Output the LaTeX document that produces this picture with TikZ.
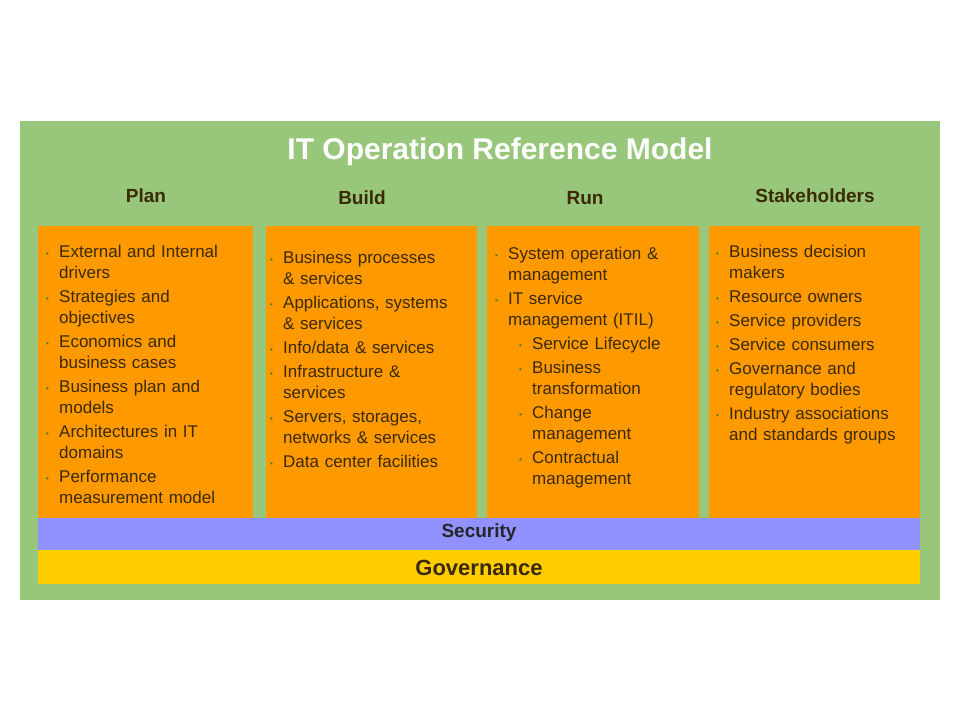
\documentclass[tikz,border=0pt]{standalone}
\usepackage{fontspec}
\setmainfont{Liberation Sans}
\definecolor{grn}{HTML}{98C67A}
\definecolor{org}{HTML}{FF9900}
\definecolor{txt}{HTML}{3A2A05}
\definecolor{bul}{HTML}{3C7A1E}
\definecolor{sec}{HTML}{9191FF}
\definecolor{gov}{HTML}{FFCC00}
\newcommand{\bi}[1]{\par\hangindent=13pt\hangafter=1\noindent\makebox[13pt][l]{\raisebox{1pt}{\textcolor{bul}{\fontsize{8}{8}\selectfont\textbullet}}}#1\par\vspace{3pt}}
\newcommand{\bii}[1]{\par\hangindent=37pt\hangafter=1\noindent\hspace{24pt}\makebox[13pt][l]{\raisebox{1pt}{\textcolor{bul}{\fontsize{8}{8}\selectfont\textbullet}}}#1\par\vspace{3pt}}
\begin{document}
\begin{tikzpicture}[x=1pt,y=-1pt,
  col/.style={fill=org,draw=none,anchor=north west,inner sep=0pt},
  list/.style={anchor=north west,inner sep=0pt,text width=205pt,align=left,text=txt,font=\fontsize{17}{21}\selectfont},
  head/.style={text=txt,font=\bfseries\fontsize{19}{22}\selectfont}]
\useasboundingbox (0,0) rectangle (960,720);
\fill[grn] (20,121) rectangle (940,600);
\node[text=white,font=\bfseries\fontsize{30}{34}\selectfont] (title) at (500,152) {IT Operation Reference Model};
\node[head] (hp) at (146,196) {Plan};
\node[head] (hb) at (362,198) {Build};
\node[head] (hr) at (585,198) {Run};
\node[head] (hs) at (815,196) {Stakeholders};
\fill[org] (38,226) rectangle (253,518);
\fill[org] (266,226) rectangle (477,518);
\fill[org] (487,226) rectangle (699,518);
\fill[org] (709,226) rectangle (920,518);
\node[list] (lp) at (46,236) {\bi{External and Internal\newline drivers}\bi{Strategies and\newline objectives}\bi{Economics and\newline business cases}\bi{Business plan and\newline models}\bi{Architectures in IT\newline domains}\bi{Performance\newline measurement model}};
\node[list] (lb) at (270,242) {\bi{Business processes\newline \& services}\bi{Applications, systems\newline \& services}\bi{Info/data \& services}\bi{Infrastructure \&\newline services}\bi{Servers, storages,\newline networks \& services}\bi{Data center facilities}};
\node[list] (lr) at (495,238) {\bi{System operation \&\newline management}\bi{IT service\newline management (ITIL)}\bii{Service Lifecycle}\bii{Business\newline transformation}\bii{Change\newline management}\bii{Contractual\newline management}};
\node[list] (ls) at (716,236) {\bi{Business decision\newline makers}\bi{Resource owners}\bi{Service providers}\bi{Service consumers}\bi{Governance and\newline regulatory bodies}\bi{Industry associations\newline and standards groups}};
\fill[sec] (38,518) rectangle (920,550);
\fill[gov] (38,550) rectangle (920,584);
\node[text=black!85,font=\bfseries\fontsize{19}{22}\selectfont] (security) at (479,533) {Security};
\node[text=txt,font=\bfseries\fontsize{22}{26}\selectfont] (governance) at (479,568) {Governance};
\end{tikzpicture}
\end{document}
